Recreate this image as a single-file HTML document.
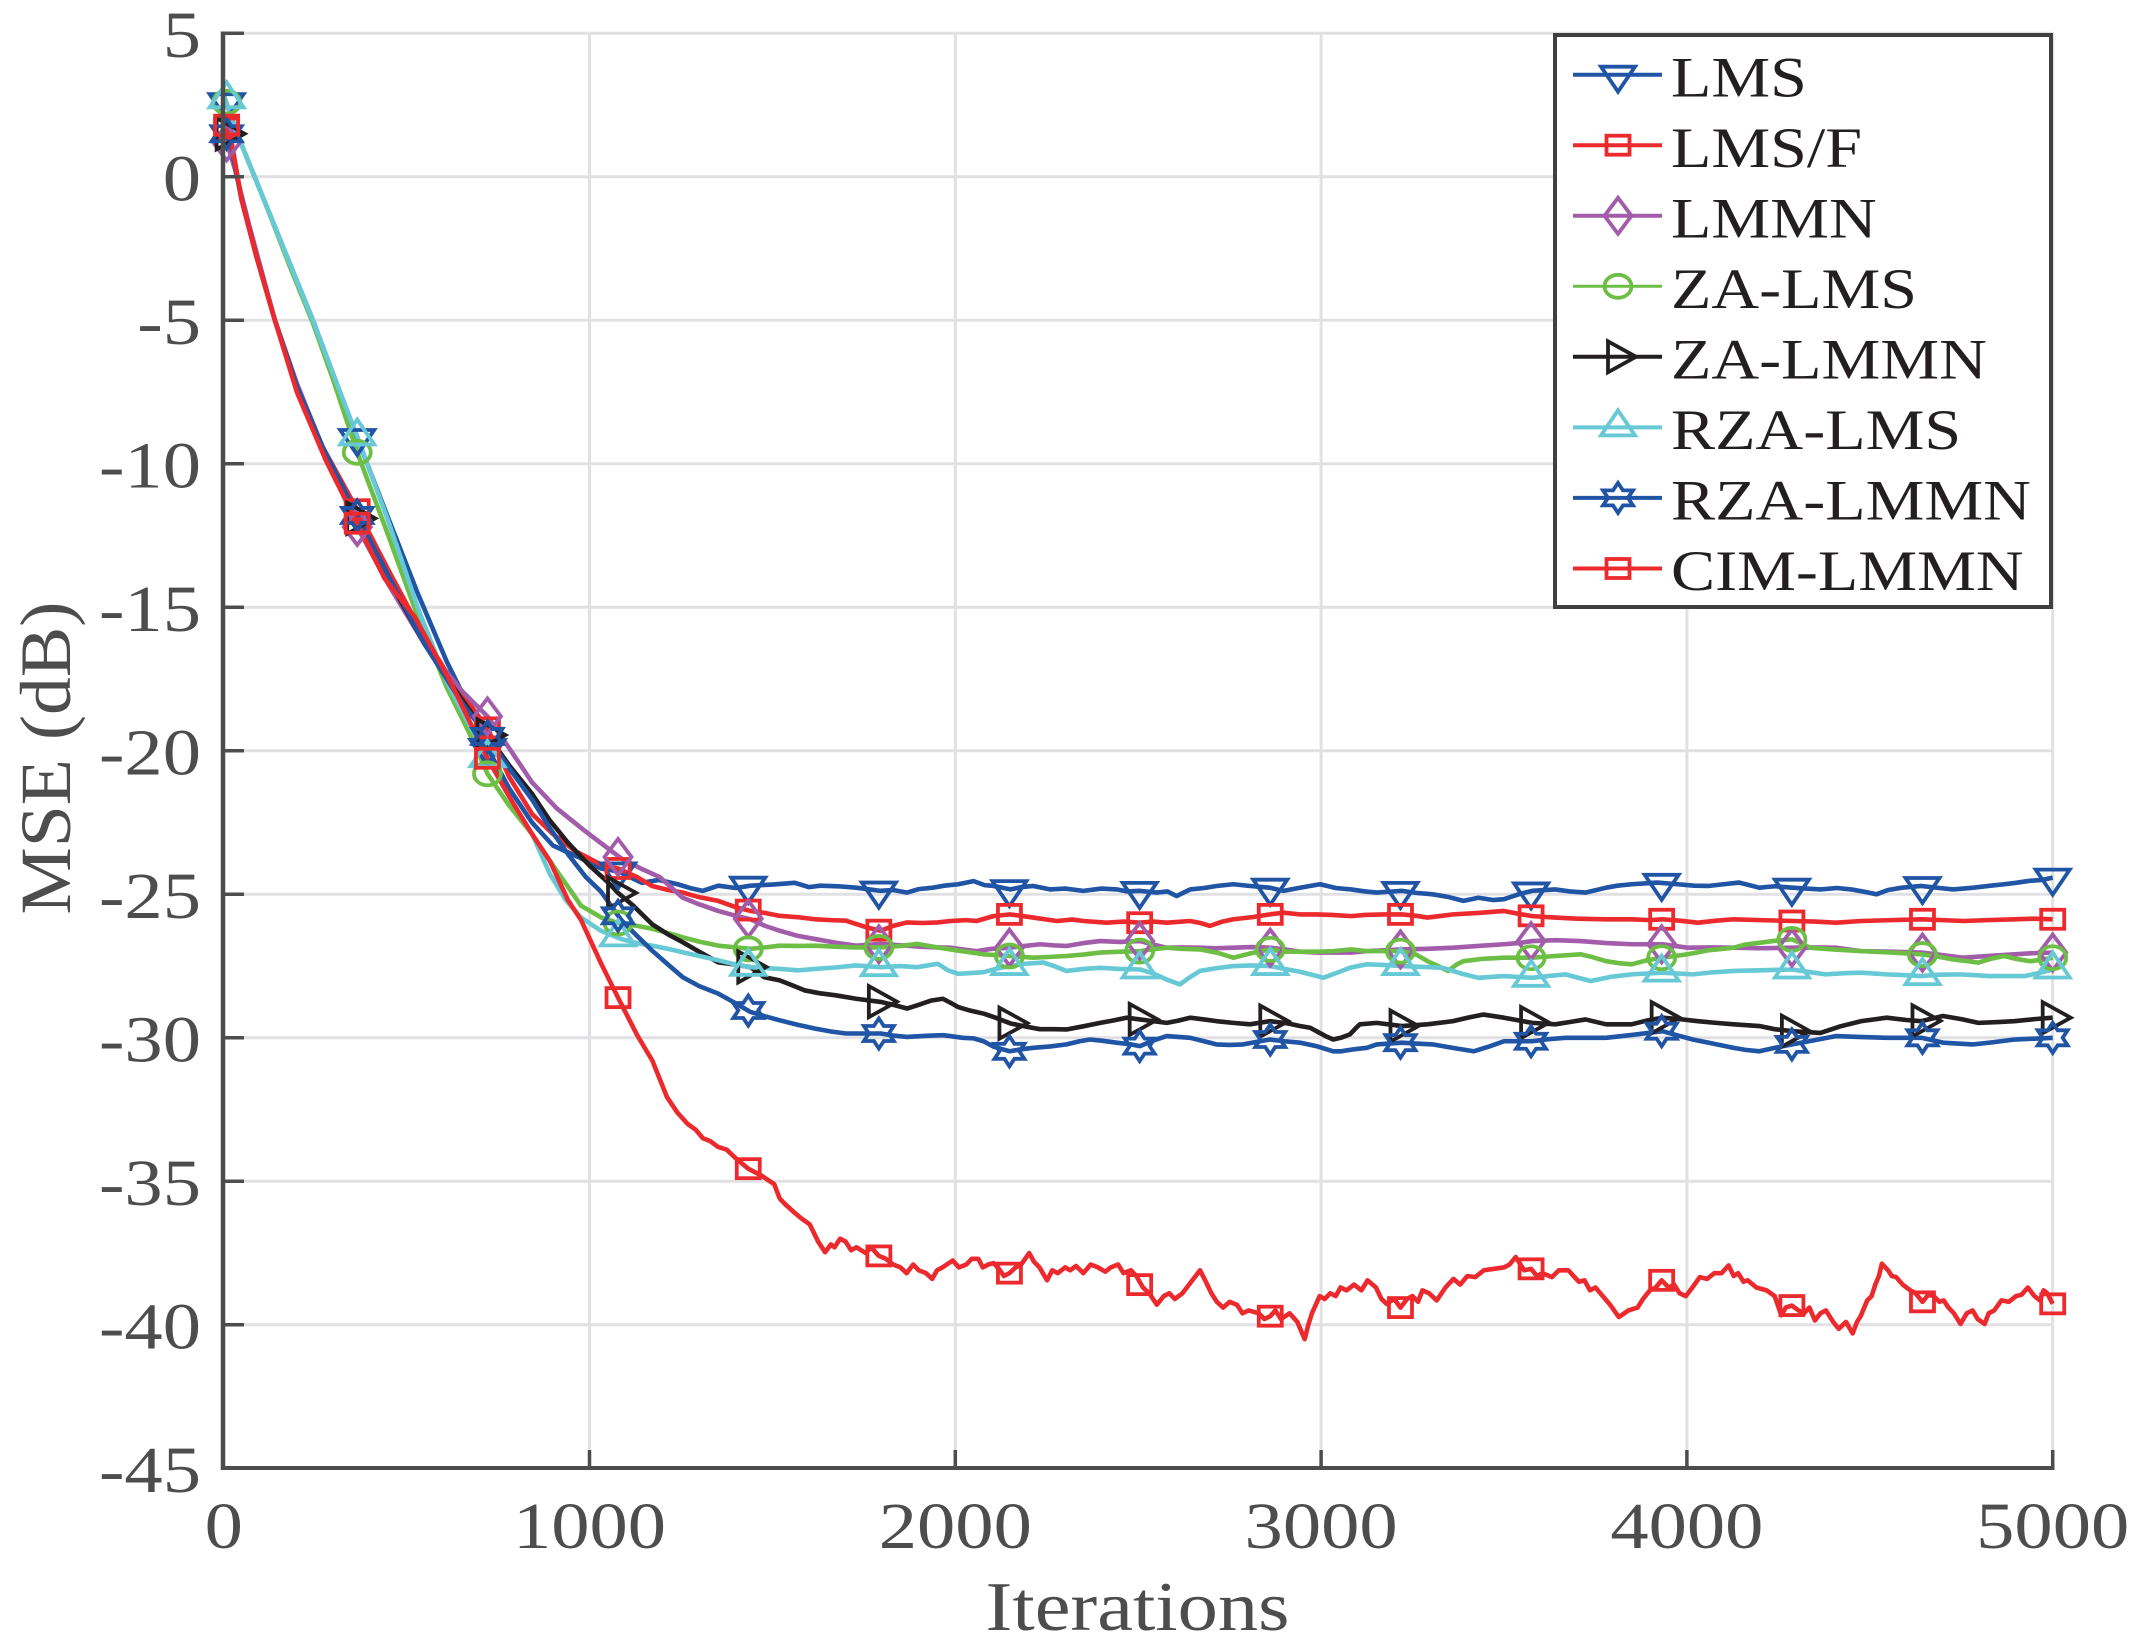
<!DOCTYPE html>
<html><head><meta charset="utf-8"><style>
html,body{margin:0;padding:0;background:#fff;}
svg{display:block;}
text{font-family:"Liberation Serif","Times New Roman",serif;}
</style></head><body>
<svg width="2142" height="1644" viewBox="0 0 2142 1644" xmlns="http://www.w3.org/2000/svg">
<defs>
<path id="pDown" d="M-17,-8 L17,-8 L0,17 Z"/>
<path id="pUp" d="M-17,8 L17,8 L0,-17 Z"/>
<rect id="pSq" x="-11.5" y="-9.5" width="23" height="19"/>
<path id="pDia" d="M0,-18 L13.5,0 L0,18 L-13.5,0 Z"/>
<ellipse id="pCirc" cx="0" cy="0" rx="13.5" ry="11.5"/>
<path id="pRight" d="M-10,-15.5 L-10,15.5 L18,0 Z"/>
<path id="pHex" d="M0,-15 L4.98,-7.5 L14.95,-7.5 L9.96,0 L14.95,7.5 L4.98,7.5 L0,15 L-4.98,7.5 L-14.95,7.5 L-9.96,0 L-14.95,-7.5 L-4.98,-7.5 Z"/>
<g id="dDown" transform="scale(2.7337,-0.034843)"><use href="#pDown"/></g>
<g id="dUp" transform="scale(2.7337,-0.034843)"><use href="#pUp"/></g>
<g id="dSq" transform="scale(2.7337,-0.034843)"><use href="#pSq"/></g>
<g id="dDia" transform="scale(2.7337,-0.034843)"><use href="#pDia"/></g>
<g id="dCirc" transform="scale(2.7337,-0.034843)"><use href="#pCirc"/></g>
<g id="dRight" transform="scale(2.7337,-0.034843)"><use href="#pRight"/></g>
<g id="dHex" transform="scale(2.7337,-0.034843)"><use href="#pHex"/></g>
</defs>
<rect width="2142" height="1644" fill="#fff"/>
<!-- grid -->
<g stroke="#e1e1e3" stroke-width="3" fill="none">
<line x1="589.5" y1="33.3" x2="589.5" y2="1468"/>
<line x1="955.3" y1="33.3" x2="955.3" y2="1468"/>
<line x1="1321.1" y1="33.3" x2="1321.1" y2="1468"/>
<line x1="1686.9" y1="33.3" x2="1686.9" y2="1468"/>
<line x1="2052.7" y1="33.3" x2="2052.7" y2="1468"/>
<line x1="223" y1="33.3" x2="2054" y2="33.3"/>
<line x1="223" y1="176.8" x2="2054" y2="176.8"/>
<line x1="223" y1="320.3" x2="2054" y2="320.3"/>
<line x1="223" y1="463.8" x2="2054" y2="463.8"/>
<line x1="223" y1="607.3" x2="2054" y2="607.3"/>
<line x1="223" y1="750.8" x2="2054" y2="750.8"/>
<line x1="223" y1="894.3" x2="2054" y2="894.3"/>
<line x1="223" y1="1037.8" x2="2054" y2="1037.8"/>
<line x1="223" y1="1181.3" x2="2054" y2="1181.3"/>
<line x1="223" y1="1324.8" x2="2054" y2="1324.8"/>
</g>
<!-- data -->
<g transform="matrix(0.3658 0 0 -28.7 223.7 176.8)" fill="none" stroke-linejoin="round">
<g stroke-width="4.6" fill="none">
<polyline vector-effect="non-scaling-stroke" stroke="#2054A4" points="1,2.8 40,1.4 110,-0.8 180,-3.0 244,-5.0 300,-6.9 365,-9.1 450,-11.9 530,-14.5 610,-16.9 680,-18.7 721,-19.9 780,-21.3 843,-22.5 900,-23.3 969,-23.7 1031,-24.1 1078,-24.2 1143,-24.6 1190,-24.5 1241,-24.65 1280,-24.8 1310,-24.88 1352,-24.7 1400,-24.78 1440,-24.7 1500,-24.66 1561,-24.6 1600,-24.75 1631,-24.7 1680,-24.72 1729,-24.77 1796,-24.88 1830,-24.85 1868,-24.94 1900,-24.82 1938,-24.77 1970,-24.7 2008,-24.65 2050,-24.54 2080,-24.68 2105,-24.71 2151,-24.83 2180,-24.75 2213,-24.71 2259,-24.83 2300,-24.8 2350,-24.88 2400,-24.8 2441,-24.83 2470,-24.9 2505,-24.88 2550,-24.94 2580,-24.9 2605,-25.06 2642,-24.83 2680,-24.78 2714,-24.71 2760,-24.65 2806,-24.71 2860,-24.77 2897,-24.88 2942,-24.77 2997,-24.65 3040,-24.78 3082,-24.83 3120,-24.9 3152,-24.94 3221,-24.88 3260,-24.95 3305,-25.0 3350,-25.1 3389,-25.23 3430,-25.12 3470,-25.2 3500,-25.17 3540,-25.0 3577,-24.88 3640,-24.83 3680,-24.9 3723,-24.94 3779,-24.77 3810,-24.7 3849,-24.65 3919,-24.59 3974,-24.65 4020,-24.7 4058,-24.71 4100,-24.65 4142,-24.59 4198,-24.77 4240,-24.72 4288,-24.77 4365,-24.83 4410,-24.78 4449,-24.83 4480,-24.9 4518,-25.0 4550,-24.85 4588,-24.77 4641,-24.71 4690,-24.78 4728,-24.83 4783,-24.77 4830,-24.7 4867,-24.65 4900,-24.6 4937,-24.53 4970,-24.5 5000,-24.42"/>
<polyline vector-effect="non-scaling-stroke" stroke="#EC2A2E" points="1,1.8 20,1.3 49,-0.8 90,-2.8 140,-5.0 200,-7.3 270,-9.4 365,-11.6 450,-13.7 530,-15.6 620,-17.5 721,-19.2 780,-20.9 843,-22.2 900,-22.9 962,-23.5 1031,-23.96 1078,-24.1 1130,-24.4 1171,-24.71 1215,-24.85 1255,-24.94 1300,-25.1 1352,-25.23 1400,-25.45 1440,-25.58 1480,-25.65 1520,-25.75 1570,-25.8 1617,-25.87 1660,-25.9 1701,-25.92 1757,-26.15 1796,-26.27 1830,-26.1 1868,-25.98 1910,-26.0 1952,-25.98 1986,-25.93 2030,-25.9 2058,-25.93 2104,-25.76 2149,-25.7 2180,-25.75 2213,-25.81 2277,-25.93 2320,-25.88 2350,-25.93 2414,-25.99 2460,-25.95 2505,-25.99 2540,-25.95 2578,-25.99 2642,-25.93 2670,-26.0 2696,-26.1 2730,-25.95 2760,-25.87 2810,-25.8 2860,-25.7 2897,-25.64 2942,-25.7 2988,-25.7 3030,-25.72 3082,-25.76 3120,-25.72 3170,-25.7 3221,-25.7 3260,-25.75 3291,-25.81 3330,-25.75 3361,-25.7 3430,-25.65 3500,-25.58 3540,-25.68 3577,-25.76 3640,-25.81 3700,-25.85 3779,-25.87 3849,-25.87 3900,-25.9 3933,-25.87 3980,-25.92 4030,-25.99 4080,-25.92 4128,-25.87 4200,-25.9 4288,-25.93 4350,-25.95 4407,-25.99 4477,-25.93 4560,-25.9 4641,-25.87 4700,-25.9 4756,-25.93 4820,-25.9 4895,-25.87 4950,-25.85 5000,-25.87"/>
<polyline vector-effect="non-scaling-stroke" stroke="#A25CA9" points="1,1.5 30,0.3 70,-1.7 140,-5.0 200,-7.2 270,-9.4 365,-12.2 450,-14.2 550,-16.3 650,-17.9 721,-18.8 780,-19.9 843,-21.1 910,-22.0 983,-22.75 1040,-23.3 1087,-23.75 1140,-24.1 1192,-24.4 1255,-25.12 1300,-25.35 1352,-25.58 1400,-25.75 1440,-25.87 1480,-26.1 1520,-26.27 1570,-26.45 1617,-26.56 1680,-26.7 1729,-26.79 1796,-26.73 1830,-26.76 1868,-26.79 1910,-26.83 1952,-26.85 1986,-26.86 2020,-26.92 2058,-26.98 2100,-26.9 2149,-26.86 2190,-26.8 2232,-26.74 2270,-26.78 2304,-26.8 2350,-26.7 2396,-26.63 2450,-26.66 2505,-26.63 2540,-26.75 2578,-26.86 2620,-26.85 2669,-26.86 2710,-26.88 2760,-26.86 2810,-26.84 2860,-26.86 2900,-26.92 2942,-27.0 2990,-27.03 3033,-27.03 3082,-27.03 3125,-26.98 3170,-26.95 3221,-26.92 3290,-26.9 3361,-26.86 3430,-26.8 3500,-26.74 3540,-26.7 3577,-26.63 3640,-26.6 3709,-26.63 3780,-26.7 3849,-26.74 3933,-26.74 4002,-26.86 4060,-26.85 4128,-26.86 4200,-26.88 4288,-26.86 4350,-26.85 4407,-26.86 4440,-26.92 4477,-26.98 4560,-27.0 4641,-27.03 4700,-27.12 4756,-27.21 4820,-27.15 4895,-27.09 4950,-27.05 5000,-27.03"/>
<polyline vector-effect="non-scaling-stroke" stroke="#6DBE45" points="1,2.8 40,1.4 110,-0.8 180,-3.1 244,-5.1 300,-7.1 365,-9.6 450,-12.5 530,-15.3 610,-17.8 680,-19.6 721,-20.8 780,-21.9 843,-22.9 906,-24.1 950,-24.9 977,-25.4 1031,-25.8 1078,-26.0 1130,-26.1 1171,-26.2 1215,-26.35 1255,-26.5 1300,-26.65 1352,-26.79 1400,-26.85 1440,-26.9 1480,-26.85 1520,-26.79 1570,-26.8 1617,-26.79 1680,-26.83 1729,-26.85 1796,-26.85 1850,-26.8 1896,-26.73 1950,-26.85 2008,-26.96 2077,-27.09 2149,-27.15 2213,-27.21 2260,-27.18 2304,-27.15 2350,-27.1 2396,-27.03 2450,-27.0 2505,-26.98 2540,-26.92 2578,-26.86 2620,-26.9 2669,-26.92 2720,-27.05 2760,-27.21 2810,-27.05 2860,-26.92 2900,-27.0 2942,-27.0 2990,-27.0 3033,-26.98 3082,-26.92 3125,-26.98 3221,-26.98 3260,-27.1 3291,-27.33 3320,-27.5 3347,-27.67 3370,-27.45 3389,-27.33 3440,-27.25 3500,-27.21 3577,-27.21 3640,-27.15 3709,-27.09 3745,-27.2 3779,-27.33 3815,-27.4 3849,-27.44 3890,-27.3 3933,-27.21 4002,-27.09 4060,-26.95 4128,-26.86 4160,-26.75 4198,-26.69 4240,-26.62 4288,-26.57 4310,-26.7 4337,-26.86 4400,-26.92 4477,-26.98 4560,-27.03 4641,-27.09 4690,-27.18 4728,-27.27 4760,-27.32 4797,-27.38 4830,-27.25 4867,-27.15 4900,-27.25 4937,-27.33 4970,-27.28 5000,-27.21"/>
<polyline vector-effect="non-scaling-stroke" stroke="#231F20" points="1,1.6 20,1.1 49,-0.8 90,-2.8 140,-5.0 200,-7.3 270,-9.5 365,-11.9 450,-14.0 550,-16.3 650,-18.2 721,-19.45 780,-20.5 843,-21.5 890,-22.4 941,-23.2 1000,-24.0 1052,-24.6 1078,-24.95 1120,-25.4 1171,-26.04 1215,-26.4 1255,-26.67 1300,-27.0 1352,-27.37 1400,-27.45 1440,-27.54 1478,-27.89 1520,-28.0 1560,-28.2 1589,-28.35 1630,-28.45 1673,-28.52 1729,-28.64 1796,-28.75 1830,-28.85 1868,-28.98 1900,-28.85 1935,-28.7 1966,-28.64 1990,-28.8 2008,-28.93 2040,-29.05 2078,-29.16 2110,-29.3 2151,-29.5 2190,-29.6 2231,-29.7 2270,-29.7 2304,-29.71 2350,-29.6 2396,-29.48 2430,-29.4 2468,-29.3 2505,-29.36 2540,-29.42 2578,-29.48 2610,-29.4 2642,-29.3 2680,-29.36 2714,-29.42 2760,-29.48 2806,-29.53 2860,-29.42 2910,-29.5 2942,-29.59 2970,-29.65 3012,-29.94 3033,-30.06 3054,-30.0 3079,-29.88 3096,-29.65 3106,-29.53 3152,-29.48 3221,-29.59 3291,-29.53 3361,-29.42 3400,-29.3 3444,-29.19 3500,-29.3 3577,-29.48 3640,-29.53 3680,-29.45 3723,-29.36 3779,-29.53 3849,-29.53 3890,-29.4 3933,-29.3 3980,-29.35 4030,-29.42 4080,-29.48 4128,-29.53 4198,-29.59 4240,-29.7 4288,-29.77 4365,-29.83 4420,-29.6 4477,-29.42 4546,-29.3 4600,-29.38 4641,-29.42 4700,-29.24 4750,-29.35 4797,-29.48 4850,-29.45 4895,-29.42 4950,-29.35 5000,-29.3"/>
<polyline vector-effect="non-scaling-stroke" stroke="#67C9D5" points="1,2.8 40,1.4 110,-0.8 180,-3.0 244,-5.0 300,-6.9 365,-9.05 450,-12.0 530,-15.0 610,-17.6 680,-19.3 721,-20.26 780,-21.6 843,-22.9 892,-24.3 935,-25.2 976,-25.8 1031,-26.27 1087,-26.56 1130,-26.7 1171,-26.79 1215,-26.9 1255,-27.02 1300,-27.15 1352,-27.3 1400,-27.45 1440,-27.54 1520,-27.6 1570,-27.65 1617,-27.6 1670,-27.55 1729,-27.48 1796,-27.54 1850,-27.5 1896,-27.54 1952,-27.42 1980,-27.65 2008,-27.77 2058,-27.73 2078,-27.71 2110,-27.6 2149,-27.5 2190,-27.42 2241,-27.38 2270,-27.5 2304,-27.67 2350,-27.6 2396,-27.56 2450,-27.6 2505,-27.62 2540,-27.75 2578,-27.97 2614,-28.14 2640,-27.9 2669,-27.67 2710,-27.58 2760,-27.5 2810,-27.48 2860,-27.5 2900,-27.6 2942,-27.7 2980,-27.82 3006,-27.91 3040,-27.75 3079,-27.56 3124,-27.44 3170,-27.46 3221,-27.5 3280,-27.53 3333,-27.56 3380,-27.75 3430,-27.91 3500,-27.85 3577,-27.91 3620,-27.85 3668,-27.79 3700,-27.9 3737,-28.02 3790,-27.88 3849,-27.79 3933,-27.73 4016,-27.79 4070,-27.72 4128,-27.67 4200,-27.65 4288,-27.62 4330,-27.7 4379,-27.79 4430,-27.75 4477,-27.73 4546,-27.79 4600,-27.82 4641,-27.85 4690,-27.8 4742,-27.79 4790,-27.82 4825,-27.85 4880,-27.85 4923,-27.85 4960,-27.75 5000,-27.62"/>
<polyline vector-effect="non-scaling-stroke" stroke="#2054A4" points="1,1.6 20,1.1 49,-0.8 90,-2.8 140,-5.0 200,-7.3 270,-9.4 365,-11.8 450,-13.9 550,-16.3 650,-18.3 721,-19.5 780,-20.6 843,-21.7 892,-22.7 941,-23.6 990,-24.4 1031,-24.9 1087,-25.9 1130,-26.45 1171,-26.96 1215,-27.45 1255,-27.89 1300,-28.2 1352,-28.46 1400,-28.8 1440,-29.1 1480,-29.25 1520,-29.39 1570,-29.55 1617,-29.68 1660,-29.78 1701,-29.85 1750,-29.85 1796,-29.85 1830,-29.92 1868,-29.97 1920,-29.93 1966,-29.91 1986,-29.94 2020,-30.0 2050,-30.02 2077,-30.12 2105,-30.31 2149,-30.47 2180,-30.4 2213,-30.35 2260,-30.3 2304,-30.23 2340,-30.12 2368,-30.06 2400,-30.1 2441,-30.17 2475,-30.22 2505,-30.29 2540,-30.1 2578,-29.94 2610,-29.97 2642,-30.0 2680,-30.12 2714,-30.23 2750,-30.25 2787,-30.23 2820,-30.15 2860,-30.06 2900,-30.12 2942,-30.17 2990,-30.3 3033,-30.47 3054,-30.47 3090,-30.4 3125,-30.35 3152,-30.23 3221,-30.17 3260,-30.2 3305,-30.23 3360,-30.35 3417,-30.47 3460,-30.3 3500,-30.12 3577,-30.12 3620,-30.05 3668,-30.0 3720,-30.0 3779,-30.0 3850,-29.9 3933,-29.77 3970,-29.9 4016,-30.06 4070,-30.2 4128,-30.35 4160,-30.42 4198,-30.47 4240,-30.35 4288,-30.23 4350,-30.08 4407,-29.94 4470,-29.97 4546,-30.0 4600,-30.0 4641,-30.0 4700,-30.17 4740,-30.2 4783,-30.23 4840,-30.15 4895,-30.06 4950,-30.03 5000,-30.0"/>
<polyline vector-effect="non-scaling-stroke" stroke="#EC2A2E" points="1,1.8 20,1.3 49,-0.8 90,-2.8 140,-5.0 200,-7.5 280,-9.9 365,-12.07 440,-14.0 522,-15.33 620,-17.6 721,-20.26 790,-21.8 843,-22.9 892,-23.85 941,-25.2 977,-25.9 1032,-27.42 1078,-28.6 1130,-29.9 1172,-30.8 1212,-32.07 1240,-32.6 1268,-33.0 1290,-33.2 1310,-33.5 1330,-33.6 1351,-33.8 1375,-33.9 1400,-34.2 1434,-34.56 1470,-34.8 1505,-35.1 1520,-35.6 1535,-35.8 1561,-36.1 1580,-36.3 1602,-36.5 1625,-37.1 1644,-37.47 1660,-37.2 1670,-37.3 1685,-37.0 1700,-37.1 1715,-37.4 1730,-37.3 1755,-37.5 1770,-37.3 1791,-37.6 1810,-37.7 1830,-37.9 1850,-38.0 1867,-38.2 1885,-37.9 1900,-38.1 1920,-38.2 1937,-38.4 1950,-38.1 1965,-38.0 1993,-37.76 2010,-38.0 2030,-37.9 2045,-37.7 2063,-37.7 2075,-38.0 2090,-37.9 2105,-37.85 2119,-38.05 2133,-38.3 2148,-38.2 2165,-38.0 2180,-37.9 2202,-37.5 2215,-37.8 2230,-38.0 2251,-38.45 2265,-38.1 2280,-38.2 2300,-38.0 2314,-38.1 2330,-37.95 2350,-38.2 2370,-37.9 2390,-38.0 2410,-38.15 2425,-38.0 2445,-37.9 2460,-38.2 2480,-38.1 2495,-38.3 2513,-38.7 2530,-38.9 2551,-39.3 2570,-39.0 2585,-38.9 2600,-39.1 2621,-38.9 2645,-38.5 2669,-38.1 2685,-38.5 2700,-38.9 2715,-39.2 2732,-39.4 2750,-39.2 2770,-39.3 2785,-39.6 2802,-39.5 2830,-39.6 2845,-39.8 2861,-39.7 2875,-39.5 2890,-39.8 2914,-39.6 2935,-39.9 2955,-40.5 2965,-40.0 2975,-39.6 2996,-39.0 3010,-39.1 3025,-38.9 3040,-39.0 3053,-38.7 3070,-38.8 3090,-38.6 3110,-38.8 3127,-38.45 3150,-38.7 3165,-39.1 3179,-39.27 3200,-39.1 3217,-39.4 3235,-39.1 3250,-39.0 3265,-39.2 3277,-38.8 3295,-38.9 3316,-39.15 3340,-38.7 3362,-38.4 3380,-38.6 3400,-38.3 3421,-38.34 3445,-38.1 3473,-38.05 3500,-38.0 3515,-37.9 3532,-37.64 3545,-37.9 3555,-38.1 3574,-38.05 3590,-38.3 3605,-38.2 3631,-38.34 3650,-38.1 3676,-38.1 3690,-38.3 3705,-38.5 3720,-38.45 3735,-38.8 3750,-38.7 3770,-39.0 3790,-39.3 3814,-39.73 3840,-39.5 3865,-39.4 3880,-39.1 3899,-38.8 3915,-38.7 3931,-38.45 3950,-38.7 3965,-38.6 3980,-38.9 3997,-39.0 4015,-38.7 4035,-38.34 4055,-38.4 4075,-38.2 4095,-38.2 4114,-37.93 4128,-38.3 4140,-38.2 4155,-38.5 4166,-38.45 4190,-38.7 4218,-38.8 4240,-39.0 4258,-39.67 4270,-39.4 4287,-39.33 4305,-39.5 4320,-39.6 4335,-39.4 4350,-39.85 4365,-39.6 4380,-39.5 4400,-39.9 4415,-40.14 4435,-39.9 4453,-40.3 4465,-39.9 4475,-39.7 4493,-39.15 4505,-39.0 4515,-38.6 4525,-38.3 4533,-37.87 4550,-38.1 4560,-38.3 4572,-38.34 4590,-38.6 4611,-38.8 4625,-38.9 4644,-39.2 4660,-38.95 4675,-39.0 4690,-39.2 4702,-39.15 4715,-39.4 4730,-39.6 4748,-39.97 4765,-39.6 4781,-39.5 4795,-39.8 4814,-39.97 4825,-39.6 4840,-39.5 4860,-39.15 4880,-39.2 4900,-39.0 4915,-38.95 4932,-38.7 4950,-39.0 4965,-39.15 4975,-38.8 4985,-38.9 5000,-39.27"/>
</g>
<!-- markers -->
<g fill="none" stroke-width="3.8" stroke-linejoin="miter">
<g stroke="#2054A4">
<use href="#dDown" x="8" y="2.6"/><use href="#dDown" x="365" y="-9.1"/><use href="#dDown" x="721" y="-19.9"/><use href="#dDown" x="1078" y="-24.2"/><use href="#dDown" x="1434" y="-24.7"/><use href="#dDown" x="1791" y="-24.87"/><use href="#dDown" x="2148" y="-24.82"/><use href="#dDown" x="2504" y="-24.88"/><use href="#dDown" x="2861" y="-24.77"/><use href="#dDown" x="3217" y="-24.88"/><use href="#dDown" x="3574" y="-24.9"/><use href="#dDown" x="3931" y="-24.6"/><use href="#dDown" x="4287" y="-24.77"/><use href="#dDown" x="4644" y="-24.71"/><use href="#dDown" x="5000" y="-24.42"/>
</g>
<g stroke="#EC2A2E">
<use href="#dSq" x="8" y="1.7"/><use href="#dSq" x="365" y="-11.6"/><use href="#dSq" x="721" y="-19.2"/><use href="#dSq" x="1078" y="-24.1"/><use href="#dSq" x="1434" y="-25.55"/><use href="#dSq" x="1791" y="-26.25"/><use href="#dSq" x="2148" y="-25.7"/><use href="#dSq" x="2504" y="-25.99"/><use href="#dSq" x="2861" y="-25.7"/><use href="#dSq" x="3217" y="-25.7"/><use href="#dSq" x="3574" y="-25.75"/><use href="#dSq" x="3931" y="-25.87"/><use href="#dSq" x="4287" y="-25.93"/><use href="#dSq" x="4644" y="-25.87"/><use href="#dSq" x="5000" y="-25.87"/>
</g>
<g stroke="#A25CA9">
<use href="#dDia" x="8" y="1.2"/><use href="#dDia" x="365" y="-12.2"/><use href="#dDia" x="721" y="-18.8"/><use href="#dDia" x="1078" y="-23.7"/><use href="#dDia" x="1434" y="-25.85"/><use href="#dDia" x="1791" y="-26.74"/><use href="#dDia" x="2148" y="-26.86"/><use href="#dDia" x="2504" y="-26.63"/><use href="#dDia" x="2861" y="-26.86"/><use href="#dDia" x="3217" y="-26.92"/><use href="#dDia" x="3574" y="-26.63"/><use href="#dDia" x="3931" y="-26.74"/><use href="#dDia" x="4287" y="-26.86"/><use href="#dDia" x="4644" y="-27.03"/><use href="#dDia" x="5000" y="-27.03"/>
</g>
<g stroke="#6DBE45">
<use href="#dCirc" x="8" y="2.6"/><use href="#dCirc" x="365" y="-9.6"/><use href="#dCirc" x="721" y="-20.8"/><use href="#dCirc" x="1078" y="-26.0"/><use href="#dCirc" x="1434" y="-26.9"/><use href="#dCirc" x="1791" y="-26.85"/><use href="#dCirc" x="2148" y="-27.15"/><use href="#dCirc" x="2504" y="-26.98"/><use href="#dCirc" x="2861" y="-26.92"/><use href="#dCirc" x="3217" y="-26.98"/><use href="#dCirc" x="3574" y="-27.21"/><use href="#dCirc" x="3931" y="-27.21"/><use href="#dCirc" x="4287" y="-26.57"/><use href="#dCirc" x="4644" y="-27.1"/><use href="#dCirc" x="5000" y="-27.21"/>
</g>
<g stroke="#231F20">
<use href="#dRight" x="8" y="1.5"/><use href="#dRight" x="365" y="-11.9"/><use href="#dRight" x="721" y="-19.45"/><use href="#dRight" x="1078" y="-24.95"/><use href="#dRight" x="1434" y="-27.53"/><use href="#dRight" x="1791" y="-28.74"/><use href="#dRight" x="2148" y="-29.49"/><use href="#dRight" x="2504" y="-29.36"/><use href="#dRight" x="2861" y="-29.42"/><use href="#dRight" x="3217" y="-29.59"/><use href="#dRight" x="3574" y="-29.47"/><use href="#dRight" x="3931" y="-29.3"/><use href="#dRight" x="4287" y="-29.77"/><use href="#dRight" x="4644" y="-29.41"/><use href="#dRight" x="5000" y="-29.3"/>
</g>
<g stroke="#67C9D5">
<use href="#dUp" x="8" y="2.7"/><use href="#dUp" x="365" y="-9.05"/><use href="#dUp" x="721" y="-20.26"/><use href="#dUp" x="1078" y="-26.5"/><use href="#dUp" x="1434" y="-27.53"/><use href="#dUp" x="1791" y="-27.54"/><use href="#dUp" x="2148" y="-27.5"/><use href="#dUp" x="2504" y="-27.62"/><use href="#dUp" x="2861" y="-27.5"/><use href="#dUp" x="3217" y="-27.5"/><use href="#dUp" x="3574" y="-27.91"/><use href="#dUp" x="3931" y="-27.73"/><use href="#dUp" x="4287" y="-27.62"/><use href="#dUp" x="4644" y="-27.85"/><use href="#dUp" x="5000" y="-27.62"/>
</g>
<g stroke="#2054A4">
<use href="#dHex" x="8" y="1.5"/><use href="#dHex" x="365" y="-11.8"/><use href="#dHex" x="721" y="-19.5"/><use href="#dHex" x="1078" y="-25.75"/><use href="#dHex" x="1434" y="-29.05"/><use href="#dHex" x="1791" y="-29.85"/><use href="#dHex" x="2148" y="-30.47"/><use href="#dHex" x="2504" y="-30.29"/><use href="#dHex" x="2861" y="-30.06"/><use href="#dHex" x="3217" y="-30.17"/><use href="#dHex" x="3574" y="-30.12"/><use href="#dHex" x="3931" y="-29.77"/><use href="#dHex" x="4287" y="-30.23"/><use href="#dHex" x="4644" y="-30.0"/><use href="#dHex" x="5000" y="-30.0"/>
</g>
<g stroke="#EC2A2E">
<use href="#dSq" x="8" y="1.8"/><use href="#dSq" x="365" y="-12.07"/><use href="#dSq" x="721" y="-20.26"/><use href="#dSq" x="1078" y="-28.6"/><use href="#dSq" x="1434" y="-34.56"/><use href="#dSq" x="1791" y="-37.6"/><use href="#dSq" x="2148" y="-38.2"/><use href="#dSq" x="2504" y="-38.6"/><use href="#dSq" x="2861" y="-39.7"/><use href="#dSq" x="3217" y="-39.4"/><use href="#dSq" x="3574" y="-38.05"/><use href="#dSq" x="3931" y="-38.45"/><use href="#dSq" x="4287" y="-39.33"/><use href="#dSq" x="4644" y="-39.2"/><use href="#dSq" x="5000" y="-39.27"/>
</g>
</g>
</g>
<!-- axes -->
<g stroke="#4d4d4d" fill="none">
<line x1="223" y1="31.5" x2="223" y2="1470" stroke-width="4.5"/>
<line x1="221" y1="1468" x2="2054.5" y2="1468" stroke-width="4"/>
<g stroke-width="3.5">
<line x1="223" y1="33.3" x2="244" y2="33.3"/>
<line x1="223" y1="176.8" x2="244" y2="176.8"/>
<line x1="223" y1="320.3" x2="244" y2="320.3"/>
<line x1="223" y1="463.8" x2="244" y2="463.8"/>
<line x1="223" y1="607.3" x2="244" y2="607.3"/>
<line x1="223" y1="750.8" x2="244" y2="750.8"/>
<line x1="223" y1="894.3" x2="244" y2="894.3"/>
<line x1="223" y1="1037.8" x2="244" y2="1037.8"/>
<line x1="223" y1="1181.3" x2="244" y2="1181.3"/>
<line x1="223" y1="1324.8" x2="244" y2="1324.8"/>
<line x1="589.5" y1="1468" x2="589.5" y2="1450"/>
<line x1="955.3" y1="1468" x2="955.3" y2="1450"/>
<line x1="1321.1" y1="1468" x2="1321.1" y2="1450"/>
<line x1="1686.9" y1="1468" x2="1686.9" y2="1450"/>
<line x1="2052.7" y1="1468" x2="2052.7" y2="1450"/>
</g>
</g>
<!-- tick labels -->
<g fill="#4d4d4d" font-size="66" text-anchor="end">
<text transform="translate(201,57) scale(1.16,1)">5</text>
<text transform="translate(201,200.5) scale(1.16,1)">0</text>
<text transform="translate(201,344) scale(1.16,1)">-5</text>
<text transform="translate(201,487.5) scale(1.16,1)">-10</text>
<text transform="translate(201,631) scale(1.16,1)">-15</text>
<text transform="translate(201,774.5) scale(1.16,1)">-20</text>
<text transform="translate(201,918) scale(1.16,1)">-25</text>
<text transform="translate(201,1061.5) scale(1.16,1)">-30</text>
<text transform="translate(201,1205) scale(1.16,1)">-35</text>
<text transform="translate(201,1348.5) scale(1.16,1)">-40</text>
<text transform="translate(201,1492) scale(1.16,1)">-45</text>
</g>
<g fill="#4d4d4d" font-size="66" text-anchor="middle">
<text transform="translate(223.7,1548) scale(1.16,1)">0</text>
<text transform="translate(589.5,1548) scale(1.16,1)">1000</text>
<text transform="translate(955.3,1548) scale(1.16,1)">2000</text>
<text transform="translate(1321.1,1548) scale(1.16,1)">3000</text>
<text transform="translate(1686.9,1548) scale(1.16,1)">4000</text>
<text transform="translate(2052.7,1548) scale(1.16,1)">5000</text>
</g>
<text fill="#4d4d4d" font-size="70" text-anchor="middle" transform="translate(1137.5,1630) scale(1.15,1)">Iterations</text>
<text fill="#4d4d4d" font-size="72" text-anchor="middle" transform="translate(70,758) rotate(-90) scale(1.05,1)">MSE (dB)</text>
<!-- legend -->
<rect x="1555" y="35" width="496" height="572" fill="#fff" stroke="#404040" stroke-width="4"/>
<g stroke-width="4" fill="none">
<line x1="1573" y1="74.7" x2="1662" y2="74.7" stroke="#2054A4"/>
<line x1="1573" y1="145.2" x2="1662" y2="145.2" stroke="#EC2A2E"/>
<line x1="1573" y1="215.8" x2="1662" y2="215.8" stroke="#A25CA9"/>
<line x1="1573" y1="286.3" x2="1662" y2="286.3" stroke="#6DBE45" stroke-width="3"/>
<line x1="1573" y1="356.8" x2="1662" y2="356.8" stroke="#231F20"/>
<line x1="1573" y1="427.4" x2="1662" y2="427.4" stroke="#67C9D5"/>
<line x1="1573" y1="497.9" x2="1662" y2="497.9" stroke="#2054A4"/>
<line x1="1573" y1="568.5" x2="1662" y2="568.5" stroke="#EC2A2E"/>
</g>
<g fill="none" stroke-width="3.8">
<use href="#pDown" x="1618" y="74.7" stroke="#2054A4"/>
<use href="#pSq" x="1618" y="145.2" stroke="#EC2A2E"/>
<use href="#pDia" x="1618" y="215.8" stroke="#A25CA9"/>
<use href="#pCirc" x="1618" y="286.3" stroke="#6DBE45"/>
<use href="#pRight" x="1618" y="356.8" stroke="#231F20"/>
<use href="#pUp" x="1618" y="427.4" stroke="#67C9D5"/>
<use href="#pHex" x="1618" y="497.9" stroke="#2054A4"/>
<use href="#pSq" x="1618" y="568.5" stroke="#EC2A2E"/>
</g>
<g fill="#231F20" font-size="57">
<text transform="translate(1671,96.3) scale(1.16,1)">LMS</text>
<text transform="translate(1671,166.8) scale(1.16,1)">LMS/F</text>
<text transform="translate(1671,237.4) scale(1.16,1)">LMMN</text>
<text transform="translate(1671,307.9) scale(1.16,1)">ZA-LMS</text>
<text transform="translate(1671,378.4) scale(1.16,1)">ZA-LMMN</text>
<text transform="translate(1671,449) scale(1.16,1)">RZA-LMS</text>
<text transform="translate(1671,519.5) scale(1.16,1)">RZA-LMMN</text>
<text transform="translate(1671,590.1) scale(1.16,1)">CIM-LMMN</text>
</g>
</svg>
</body></html>
